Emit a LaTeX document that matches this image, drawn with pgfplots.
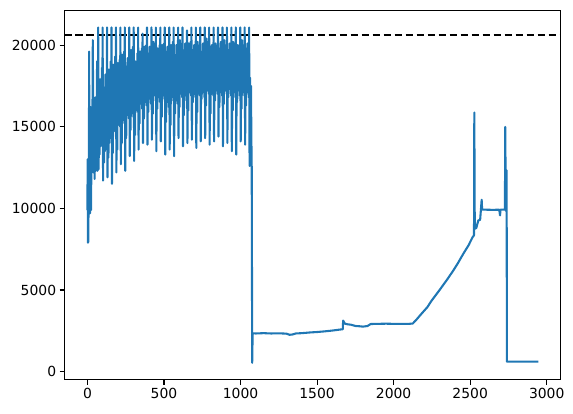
\documentclass[border=0pt]{standalone}
\usepackage{fontspec}
\setmainfont{DejaVu Sans}
\usepackage{pgfplots}
\pgfplotsset{compat=1.18}
\definecolor{mplblue}{HTML}{1F77B4}

\begin{document}
\begin{tikzpicture}
\useasboundingbox (-64.5pt,-33.3pt) rectangle (508.5pt,379.7pt);
\begin{axis}[
  at={(0pt,0pt)}, anchor=south west,
  scale only axis,
  width=496pt, height=369pt,
  xmin=-150, xmax=3090,
  ymin=-490, ymax=22104,
  xtick={0,500,...,3000},
  ytick={0,5000,...,20000},
  scaled x ticks=false, scaled y ticks=false,
  xtick pos=bottom, ytick pos=left,
  tick align=outside,
  major tick length=4.86pt,
  tick style={black, line width=1.1pt},
  axis line style={line width=1.1pt},
  ticklabel style={font=\fontsize{13.9}{16.7}\selectfont},
  /pgf/number format/assume math mode=true,
  /pgf/number format/1000 sep={},
]
\addplot[black, line width=2.08pt, dash pattern=on 7.7pt off 3.3pt]
  coordinates {(-150,20600) (3090,20600)};
\addplot[mplblue, line width=2.08pt, line join=round] coordinates {
(0,9900)(1,13000)(3,7900)(5,7950)(7,9900)(9,9700)(11,19600)(13,9800)
(15,14800)(17,9700)(19,12300)(21,16200)(23,9900)(25,12000)(28,14500)
(31,12400)(35,20300)(39,12200)(43,15500)(47,11800)(51,16800)(55,12300)
(59,14600)(63,19000)(66,12300)
(70,21077)(73,12400)(76,16800)(79,13300)(82,17900)(85,13800)(88,16200)(91,14100)(94,18600)(97,13900)
(99,21077)(102,11700)(105,16100)(108,12800)(111,17400)(114,13500)(117,18200)(120,14200)(123,16900)(126,13600)
(128,21077)(131,11900)(134,17000)(137,13100)(140,18500)(143,14000)(146,17200)(149,14600)(152,19000)(155,14300)
(157,21077)(160,11500)(163,16300)(166,13400)(169,18800)(172,14700)(175,17600)(178,15000)(181,19300)(184,14900)
(186,21077)(189,12200)(192,17500)(195,13600)(198,18900)(201,15100)(204,17800)(207,15300)(210,19100)(213,15000)
(215,21077)(218,12700)(221,17100)(224,14000)(227,19400)(230,15400)(233,18100)(236,15600)(239,19600)(242,15200)
(244,21077)(247,12300)(250,18000)(253,14300)(256,18700)(259,15700)(262,19200)(265,15900)(268,18400)(271,15500)
(273,21077)(276,13200)(279,17300)(282,14800)(285,19700)(288,15800)(291,18600)(294,16200)(297,19900)(300,15600)
(302,21077)(305,12900)(308,17900)(311,14500)(314,19000)(317,16000)(320,18800)(323,16300)(326,19500)(329,15900)
(331,21077)(334,13600)(337,18300)(340,15200)(343,19600)(346,16400)(349,18900)(352,16600)(355,19800)(358,16100)
(360,20700)(363,14000)(366,17800)(369,15500)(372,19900)(375,16500)(378,19100)(381,16800)(384,20000)(387,16300)
(389,21077)(392,13900)(395,18500)(398,15900)(401,19500)(404,16700)(407,19900)(410,16900)(413,19200)(416,16400)
(418,21077)(421,14200)(424,17600)(427,15800)(430,20200)(433,16900)(436,19400)(439,17100)(442,20100)(445,16600)
(447,21077)(450,13500)(453,18700)(456,16100)(459,19800)(462,16800)(465,19300)(468,17000)(471,20000)(474,16500)
(476,21077)(479,14100)(482,18000)(485,15600)(488,20000)(491,16900)(494,19500)(497,17200)(500,20100)(503,16700)
(505,21077)(508,13300)(511,18400)(514,15300)(517,19600)(520,16500)(523,19900)(526,16900)(529,19300)(532,16200)
(534,21077)(537,13600)(540,17600)(543,15100)(546,20000)(549,16800)(552,19400)(555,17100)(558,20200)(561,16600)
(563,21077)(566,13200)(569,18900)(572,15800)(575,19400)(578,16600)(581,20000)(584,17000)(587,19500)(590,16400)
(592,21077)(595,14300)(598,17900)(601,16200)(604,20300)(607,17000)(610,19600)(613,17300)(616,20100)(619,16800)
(621,21077)(624,13800)(627,18500)(630,15700)(633,19700)(636,16900)(639,20100)(642,17100)(645,19400)(648,16600)
(650,20900)(653,14000)(656,18100)(659,16000)(662,20100)(665,17100)(668,19500)(671,17400)(674,20200)(677,16900)
(679,21077)(682,14200)(685,18800)(688,16500)(691,19700)(694,17000)(697,20000)(700,17300)(703,19600)(706,16800)
(708,21077)(711,13700)(714,18200)(717,15900)(720,20200)(723,17000)(726,19600)(729,17400)(732,20000)(735,16900)
(737,21077)(740,14100)(743,19000)(746,16700)(749,19600)(752,17100)(755,20100)(758,17300)(761,19500)(764,16800)
(766,21077)(769,14300)(772,17900)(775,16300)(778,20400)(781,17200)(784,19700)(787,17500)(790,20200)(793,17000)
(795,21077)(798,13900)(801,18600)(804,15800)(807,19900)(810,17000)(813,20000)(816,17300)(819,19600)(822,16900)
(824,21077)(827,14100)(830,18300)(833,16600)(836,20100)(839,17200)(842,19600)(845,17500)(848,20000)(851,17000)
(853,21077)(856,14400)(859,18900)(862,16200)(865,19800)(868,17100)(871,20200)(874,17400)(877,19700)(880,16900)
(882,21077)(885,13800)(888,18500)(891,16400)(894,20300)(897,17200)(900,19700)(903,17500)(906,20000)(909,17000)
(911,21077)(914,14000)(917,19000)(920,16800)(923,19700)(926,17300)(929,20100)(932,17500)(935,19600)(938,16900)
(940,21077)(943,13500)(946,18200)(949,16000)(952,20200)(955,17100)(958,19600)(961,17400)(964,20100)(967,16800)
(969,21077)(972,13300)(975,18800)(978,16500)(981,20000)(984,17200)(987,19500)(990,17300)(993,20000)(996,16900)
(998,21077)(1001,14100)(1004,18400)(1007,16100)(1010,20300)(1013,17100)(1016,19700)(1019,17400)(1022,20000)(1025,16900)
(1027,21077)(1030,13900)(1033,18700)(1036,16300)(1039,19800)(1042,17100)(1045,20100)(1048,17300)(1051,19600)(1054,16800)
(1056,21077)(1059,12600)(1062,18000)(1065,13400)(1068,17500)(1071,14000)(1073,12500)
(1076,540)(1079,2350)(1100,2340)(1150,2360)(1200,2340)(1250,2350)
(1300,2330)(1320,2260)(1340,2280)(1360,2340)(1400,2360)(1450,2400)
(1500,2430)(1550,2470)(1600,2520)(1650,2580)(1668,2600)(1670,3130)
(1680,2950)(1700,2900)(1720,2880)(1750,2800)(1780,2780)(1800,2760)
(1830,2800)(1850,2920)(1900,2930)(1950,2940)(2000,2930)(2050,2930)
(2100,2930)(2125,2950)(2150,3200)(2183,3560)(2220,3950)(2248,4350)
(2300,5000)(2350,5650)(2390,6200)(2420,6650)(2455,7220)(2490,7750)
(2516,8240)(2525,8350)(2527,15870)(2530,8750)(2540,8800)(2553,9260)
(2565,9300)(2570,9900)(2575,10530)(2578,9920)(2600,9920)(2650,9910)
(2690,9920)(2695,9570)(2698,9920)(2727,9920)(2729,14990)(2733,9850)
(2738,12330)(2740,613)(2800,613)(2900,613)(2945,613)
};
\end{axis}
\end{tikzpicture}
\end{document}
